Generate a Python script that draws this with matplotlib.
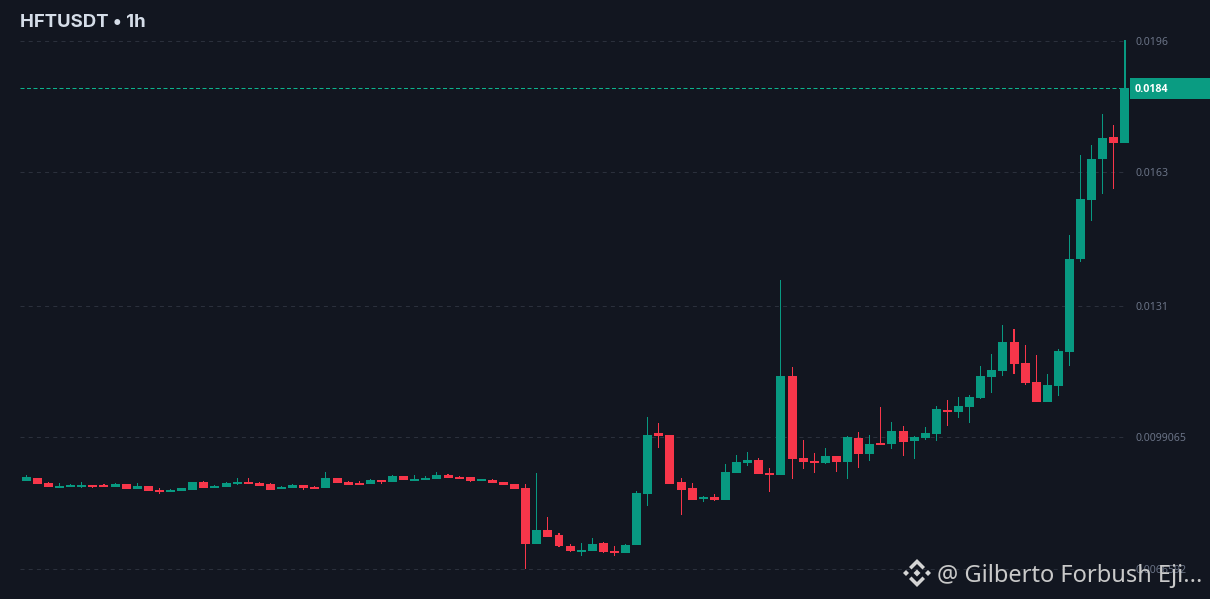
import matplotlib
matplotlib.use("Agg")
import matplotlib.pyplot as plt
from matplotlib.patches import Polygon, Rectangle
import numpy as np

TITLE = "HFTUSDT • 1h"
WATERMARK = "@ Gilberto Forbush Eji..."
LAST_PRICE = 0.01844
AXIS_TICKS = [0.0196, 0.01638, 0.01311, 0.0099065, 0.0066592]
AXIS_LABELS = ["0.0196", "0.0163", "0.0131", "0.0099065", "0.0066592"]

opens = [
 .008821,.008894,.008772,.008649,.008674,.008674,.008723,.008723,.008674,.008747,
 .008625,.008698,.008600,.008551,.008576,.008600,.008796,.008649,.008674,.008747,
 .008796,.008772,.008747,.008625,.008649,.008723,.008674,.008649,.008894,.008796,
 .008772,.008747,.008845,.008796,.008943,.008821,.008845,.008870,.008968,.008919,
 .008919,.008821,.008845,.008796,.008747,.008649,.007277,.007620,.007498,.007228,
 .007081,.007106,.007302,.007106,.007057,.007253,.008502,.009997,.009948,.008796,
 .008649,.008380,.008429,.008355,.009017,.009262,.009335,.009017,.008968,.011393,
 .009384,.009311,.009262,.009433,.009286,.009874,.009482,.009752,.009727,.010046,
 .009801,.009874,.009972,.010560,.010511,.010634,.010854,.011369,.011516,.012226,
 .011712,.011246,.010756,.011148,.011981,.014260,.015705,.016710,.017249,.017102]
closes = [
 .008919,.008747,.008674,.008698,.008723,.008723,.008674,.008674,.008747,.008625,
 .008698,.008576,.008551,.008600,.008649,.008796,.008649,.008698,.008772,.008796,
 .008747,.008698,.008600,.008674,.008723,.008649,.008625,.008894,.008772,.008723,
 .008723,.008845,.008796,.008943,.008845,.008870,.008894,.008968,.008894,.008870,
 .008821,.008870,.008772,.008723,.008625,.007277,.007620,.007449,.007228,.007106,
 .007130,.007277,.007081,.007057,.007253,.008527,.009948,.009923,.008747,.008600,
 .008355,.008429,.008355,.009041,.009286,.009335,.008992,.008968,.011393,.009360,
 .009286,.009262,.009433,.009286,.009899,.009482,.009727,.009703,.010046,.009776,
 .009899,.009997,.010585,.010511,.010658,.010879,.011393,.011540,.012226,.011687,
 .011222,.010756,.011173,.012006,.014260,.015730,.016710,.017224,.017102,.018449]
highs = [
 .008968,.008894,.008796,.008772,.008747,.008796,.008723,.008747,.008772,.008747,
 .008772,.008698,.008649,.008625,.008649,.008796,.008821,.008723,.008796,.008894,
 .008894,.008796,.008772,.008698,.008747,.008723,.008698,.009041,.008894,.008821,
 .008821,.008870,.008845,.008968,.008943,.008968,.008943,.009041,.008992,.008943,
 .008919,.008870,.008870,.008796,.008747,.008747,.009017,.007939,.007547,.007277,
 .007302,.007424,.007326,.007228,.007277,.008576,.010389,.010242,.009948,.008894,
 .008772,.008453,.008502,.009237,.009458,.009531,.009384,.009139,.013745,.011614,
 .009825,.009507,.009629,.009433,.009923,.010021,.009948,.010634,.010266,.010168,
 .009923,.010144,.010658,.010805,.010879,.010928,.011638,.011932,.012643,.012545,
 .012153,.011908,.011442,.012055,.014848,.016808,.017053,.017812,.017543,.019625]
lows = [
 .008821,.008747,.008674,.008649,.008674,.008649,.008649,.008674,.008674,.008625,
 .008625,.008576,.008502,.008551,.008576,.008600,.008649,.008649,.008674,.008723,
 .008747,.008698,.008600,.008625,.008649,.008600,.008625,.008649,.008772,.008723,
 .008723,.008747,.008747,.008796,.008845,.008821,.008845,.008870,.008894,.008870,
 .008796,.008821,.008772,.008723,.008625,.006665,.007277,.007449,.007204,.007081,
 .006983,.007106,.007057,.006983,.007057,.007253,.008208,.009629,.008747,.007988,
 .008355,.008306,.008331,.008355,.009017,.009188,.008992,.008551,.008968,.008870,
 .009115,.009017,.009237,.009041,.008870,.009139,.009311,.009703,.009605,.009433,
 .009360,.009825,.009801,.010168,.010364,.010242,.010830,.010977,.011393,.011442,
 .011173,.010756,.010756,.010903,.011638,.014186,.015191,.015852,.015975,.017102]

BG, GREEN, RED = "#121620", "#089981", "#f7364a"
W, H = 1210, 599

fig = plt.figure(figsize=(W / 100, H / 100), dpi=100, facecolor=BG)
ax = fig.add_axes([0, 0, 1, 1], facecolor=BG)
ax.set_xlim(-2.37, 106.66)
ax.set_ylim(0.0059295, 0.020605)
for s in ax.spines.values():
    s.set_visible(False)

idx = np.arange(len(opens))
o, c, hi, lo = map(np.array, (opens, closes, highs, lows))
up = c >= o
colors = np.where(up, GREEN, RED)

grid_lo, grid_hi = -0.57, 99.2
grid = ax.hlines(AXIS_TICKS, grid_lo, grid_hi, colors="#2b303c", linewidth=0.72,
                 linestyles=(0, (4, 4.2)), zorder=1)
grid.set_snap(True)
last = ax.hlines(LAST_PRICE, grid_lo, grid_hi, colors="#0cb38d", linewidth=0.72,
                 linestyles=(0, (4, 2.5)), zorder=2)
last.set_snap(True)

ax.bar(idx, hi - lo, bottom=lo, width=0.095, color=colors, linewidth=0, zorder=3)
ax.bar(idx, np.abs(c - o), bottom=np.minimum(o, c), width=0.81, color=colors,
       linewidth=0, zorder=4)

ax.yaxis.tick_right()
ax.set_xticks([])
ax.set_yticks(AXIS_TICKS)
ax.set_yticklabels(AXIS_LABELS, family="Noto Sans", fontsize=7.6, color="#6a7386")
ax.tick_params(axis="y", length=0, pad=-54)

# Last-price tag, placed in pixels relative to the figure
fig.add_artist(Rectangle((1130 / W, 1 - 99 / H), 80 / W, 21 / H, transform=fig.transFigure,
                         facecolor="#0a9c82", edgecolor="none"))
fig.text(1135 / W, 1 - 89.5 / H, "0.0184", color="white", fontsize=7.7, weight="bold",
         family="Open Sans", va="center", ha="left")

fig.text(20 / W, 1 - 22.5 / H, TITLE, color="#d5dde8", fontsize=13.4, weight="bold",
         family=["Inter", "Liberation Sans"], va="center", ha="left")

# Watermark logo and name
def P(points, cx=917, cy=573, scale=1.0):
    pts = [((cx + x * scale) / W, 1 - (cy + y * scale) / H) for x, y in points]
    fig.add_artist(Polygon(pts, closed=True, transform=fig.transFigure,
                           facecolor="#d4d4d4", edgecolor="none", zorder=6))

P([(0, -3.5), (3.5, 0), (0, 3.5), (-3.5, 0)])
P([(-14, 0), (-11, -3), (-8, 0), (-11, 3)])
P([(14, 0), (11, -3), (8, 0), (11, 3)])
P([(0, -14), (8, -6), (5.5, -3.5), (0, -9), (-5.5, -3.5), (-8, -6)])
P([(0, 14), (8, 6), (5.5, 3.5), (0, 9), (-5.5, 3.5), (-8, 6)])
fig.text(937 / W, 1 - 575.5 / H, WATERMARK, color="#c9c9c9", fontsize=17.0,
         family="Noto Sans", va="center", ha="left", zorder=6)

fig.savefig("out.png", dpi=100, facecolor=BG)
